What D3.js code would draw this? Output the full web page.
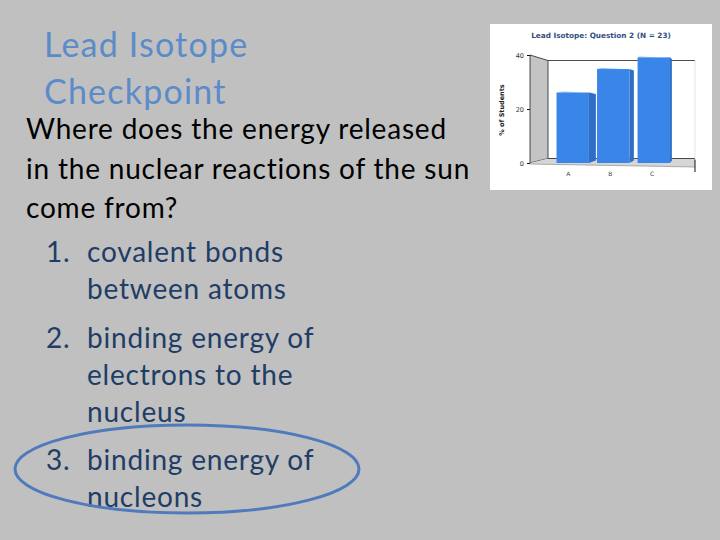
<!DOCTYPE html>
<html>
<head>
<meta charset="utf-8">
<script src="https://cdn.jsdelivr.net/npm/d3@7"></script>
<style>
  body { margin: 0; background: #c0c0c0; }
  svg { display: block; }
</style>
</head>
<body>
<svg id="slide" width="720" height="540"></svg>
<script>
// chart data
var categories = ["A", "B", "C"];
var percents = [26.1, 34.8, 39.1];   // 6, 8, 9 of 23 students
var yTicks = [0, 20, 40];
var chartTitle = "Lead Isotope: Question 2 (N = 23)";
var yLabel = "% of Students";

// slide text
var titleLines = ["Lead Isotope", "Checkpoint"];
var questionLines = ["Where does the energy released", "in the nuclear reactions of the sun", "come from?"];
var answers = [
    ["covalent bonds", "between atoms"],
    ["binding energy of", "electrons to the", "nucleus"],
    ["binding energy of", "nucleons"]
];

var svg = d3.select("#slide");
var font = "Lato, 'Open Sans', sans-serif";

svg.append("rect").attr("width", 720).attr("height", 540).attr("fill", "#c0c0c0");

/* slide text */
svg.selectAll(".ttl")
    .data(titleLines)
  .enter().append("text")
    .attr("class", "ttl")
    .attr("x", 44)
    .attr("y", function (d, i) { return 57 + i * 47; })
    .attr("font-family", font)
    .attr("font-size", 34)
    .attr("letter-spacing", 1.2)
    .attr("fill", "#5b8bc9")
    .text(function (d) { return d; });

svg.selectAll(".q")
    .data(questionLines)
  .enter().append("text")
    .attr("class", "q")
    .attr("x", 26)
    .attr("y", function (d, i) { return 139 + i * 39.5; })
    .attr("font-family", font)
    .attr("font-size", 28)
    .attr("letter-spacing", 0.8)
    .attr("fill", "#000")
    .text(function (d) { return d; });

var baselines = [[262, 299], [348, 385, 422], [470, 507]];
answers.forEach(function (lines, i) {
    svg.append("text")
        .attr("x", 46)
        .attr("y", baselines[i][0])
        .attr("font-family", font)
        .attr("font-size", 28)
        .attr("letter-spacing", 0.8)
        .attr("fill", "#1f3d66")
        .text((i + 1) + ".");
    lines.forEach(function (l, j) {
        svg.append("text")
            .attr("x", 87)
            .attr("y", baselines[i][j])
            .attr("font-family", font)
            .attr("font-size", 28)
            .attr("letter-spacing", 0.8)
            .attr("fill", "#1f3d66")
            .text(l);
    });
});

// circle round the right answer
svg.append("ellipse")
    .attr("cx", 187).attr("cy", 469)
    .attr("rx", 172).attr("ry", 44)
    .attr("fill", "none")
    .attr("stroke", "#4f7bbd")
    .attr("stroke-width", 3);

/* bar chart */
svg.append("rect")
    .attr("x", 490).attr("y", 24)
    .attr("width", 222).attr("height", 166)
    .attr("fill", "#fff");

svg.append("text")
    .attr("x", 601).attr("y", 38)
    .attr("text-anchor", "middle")
    .attr("font-family", "'DejaVu Sans', sans-serif")
    .attr("font-weight", "bold")
    .attr("font-size", 7.3)
    .attr("fill", "#2f4f80")
    .text(chartTitle);

var y = d3.scaleLinear().domain([0, 40]).range([163, 55]);
var yBack = d3.scaleLinear().domain([0, 40]).range([158.5, 60.5]);
var x = d3.scaleBand()
    .domain(categories)
    .range([548, 678.5])
    .paddingInner(0.2)
    .paddingOuter(0.21);

var frontX = 530, backX = 548, rightX = 695, vpX = 700;

// left wall
svg.append("path")
    .attr("d", "M" + frontX + "," + y(40) + "L" + backX + "," + yBack(40) +
        "L" + backX + "," + yBack(0) + "L" + frontX + "," + y(0) + "Z")
    .attr("fill", "#c4c4c4")
    .attr("stroke", "#222")
    .attr("stroke-width", 0.8);

// floor
svg.append("path")
    .attr("d", "M" + frontX + "," + y(0) + "L" + backX + "," + yBack(0) +
        "L" + rightX + "," + yBack(0) + "L" + rightX + "," + (y(0) + 4) + "L" + frontX + "," + (y(0) + 1) + "Z")
    .attr("fill", "#d6d6d6");

// back wall lines
svg.append("line")
    .attr("x1", backX).attr("x2", rightX)
    .attr("y1", yBack(40)).attr("y2", yBack(40))
    .attr("stroke", "#222").attr("stroke-width", 0.8);
svg.append("line")
    .attr("x1", backX).attr("x2", rightX)
    .attr("y1", yBack(0)).attr("y2", yBack(0))
    .attr("stroke", "#222").attr("stroke-width", 0.8);
svg.append("line")
    .attr("x1", rightX).attr("x2", rightX)
    .attr("y1", yBack(40)).attr("y2", yBack(0))
    .attr("stroke", "#ddd").attr("stroke-width", 0.8);

// front axis
svg.append("line")
    .attr("x1", frontX).attr("x2", rightX)
    .attr("y1", y(0) + 1).attr("y2", y(0) + 4)
    .attr("stroke", "#999").attr("stroke-width", 0.8);
svg.append("line")
    .attr("x1", rightX).attr("x2", rightX)
    .attr("y1", yBack(0) + 1).attr("y2", y(0) + 9)
    .attr("stroke", "#111").attr("stroke-width", 1);

var yAxis = svg.append("g")
    .attr("transform", "translate(" + frontX + ",0)")
    .call(d3.axisLeft(y).tickValues(yTicks).tickSize(3).tickFormat(d3.format("d")));
yAxis.select(".domain").remove();
yAxis.selectAll("line").attr("stroke", "#111");
yAxis.selectAll("text")
    .attr("font-family", "'DejaVu Sans', sans-serif")
    .attr("font-size", 6.5)
    .attr("fill", "#333");

svg.append("text")
    .attr("transform", "translate(504,110) rotate(-90)")
    .attr("text-anchor", "middle")
    .attr("font-family", "'DejaVu Sans', sans-serif")
    .attr("font-weight", "bold")
    .attr("font-size", 6.5)
    .attr("fill", "#222")
    .text(yLabel);

// bars with a little perspective depth
var bars = svg.selectAll(".bar")
    .data(percents)
  .enter().append("g")
    .attr("class", "bar");

function depth(i) { return (vpX - (x(categories[i]) + x.bandwidth())) * 0.0625; }

bars.append("path")
    .attr("d", function (d, i) {
        var x1 = x(categories[i]) + x.bandwidth(), k = depth(i);
        return "M" + x1 + "," + y(d) + "L" + (x1 + k) + "," + (y(d) + 1.5) +
            "L" + (x1 + k) + "," + (y(0) - 2.5) + "L" + x1 + "," + y(0) + "Z";
    })
    .attr("fill", "#2e6ec6");

bars.append("path")
    .attr("d", function (d, i) {
        var x0 = x(categories[i]), x1 = x0 + x.bandwidth(), k = depth(i);
        return "M" + x0 + "," + y(d) + "L" + (x0 + k) + "," + (y(d) - 1) +
            "L" + (x1 + k) + "," + (y(d) + 0.5) + "L" + x1 + "," + y(d) + "Z";
    })
    .attr("fill", "#8db9f0");

bars.append("rect")
    .attr("x", function (d, i) { return x(categories[i]); })
    .attr("y", function (d) { return y(d); })
    .attr("width", x.bandwidth())
    .attr("height", function (d) { return y(0) - y(d); })
    .attr("fill", "#3a86e8");

svg.selectAll(".xl")
    .data(categories)
  .enter().append("text")
    .attr("class", "xl")
    .attr("x", function (d) { return x(d) + x.bandwidth() / 2 - (vpX - x(d) - x.bandwidth() / 2) * 0.035; })
    .attr("y", 176)
    .attr("text-anchor", "middle")
    .attr("font-family", "'DejaVu Sans', sans-serif")
    .attr("font-size", 6)
    .attr("fill", "#444")
    .text(function (d) { return d; });
</script>
</body>
</html>
